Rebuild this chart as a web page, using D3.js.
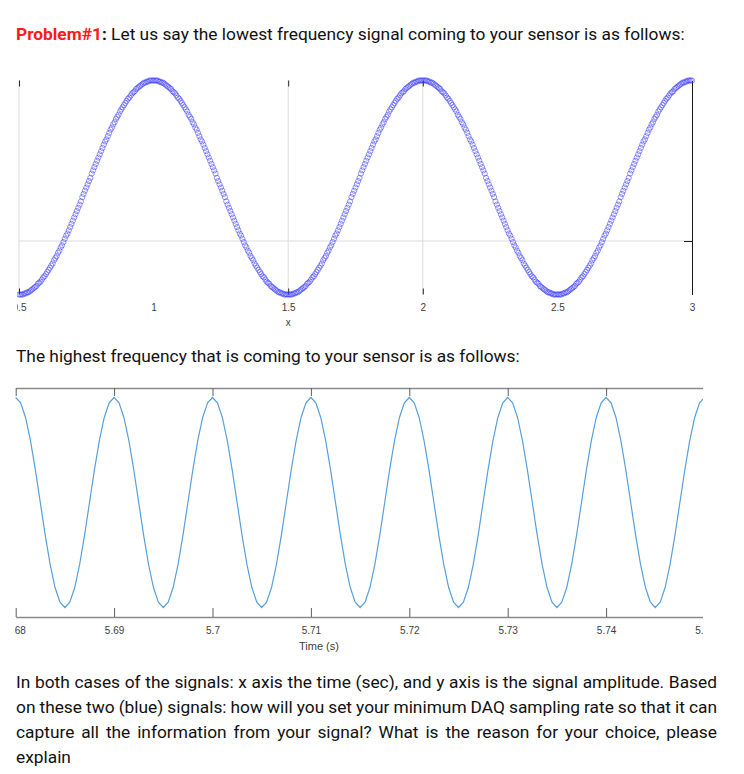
<!DOCTYPE html>
<html>
<head>
<meta charset="utf-8">
<script src="https://cdn.jsdelivr.net/npm/d3@7"></script>
<style>
  html, body { margin: 0; background: #fff; }
  svg { display: block; }
</style>
</head>
<body>
<svg id="page" width="744" height="774"></svg>
<script>
// ---- low frequency signal (markers), sampled every 0.005 from x = 0.5
const lowStart = 0.5, lowStep = 0.005;
const lowAmp = [
  -1,-1,-1,-1,-.99,-.99,-.98,-.98,-.97,-.96,-.95,-.94,-.93,-.92,-.9,-.89,-.88,-.86,-.84,-.83,-.81,-.79,-.77,-.75,-.73,-.71,-.68,-.66,-.64,-.61,-.59,-.56,-.54,-.51,-.48,-.45,-.43,-.4,-.37,-.34,-.31,-.28,-.25,-.22,-.19,-.16,-.13,-.09,-.06,-.03,0,
  .03,.06,.09,.13,.16,.19,.22,.25,.28,.31,.34,.37,.4,.43,.45,.48,.51,.54,.56,.59,.61,.64,.66,.68,.71,.73,.75,.77,.79,.81,.83,.84,.86,.88,.89,.9,.92,.93,.94,.95,.96,.97,.98,.98,.99,.99,1,1,1,1,
  1,1,1,.99,.99,.98,.98,.97,.96,.95,.94,.93,.92,.9,.89,.88,.86,.84,.83,.81,.79,.77,.75,.73,.71,.68,.66,.64,.61,.59,.56,.54,.51,.48,.45,.43,.4,.37,.34,.31,.28,.25,.22,.19,.16,.13,.09,.06,.03,0,
  -.03,-.06,-.09,-.13,-.16,-.19,-.22,-.25,-.28,-.31,-.34,-.37,-.4,-.43,-.45,-.48,-.51,-.54,-.56,-.59,-.61,-.64,-.66,-.68,-.71,-.73,-.75,-.77,-.79,-.81,-.83,-.84,-.86,-.88,-.89,-.9,-.92,-.93,-.94,-.95,-.96,-.97,-.98,-.98,-.99,-.99,-1,-1,-1,-1,
  -1,-1,-1,-.99,-.99,-.98,-.98,-.97,-.96,-.95,-.94,-.93,-.92,-.9,-.89,-.88,-.86,-.84,-.83,-.81,-.79,-.77,-.75,-.73,-.71,-.68,-.66,-.64,-.61,-.59,-.56,-.54,-.51,-.48,-.45,-.43,-.4,-.37,-.34,-.31,-.28,-.25,-.22,-.19,-.16,-.13,-.09,-.06,-.03,0,
  .03,.06,.09,.13,.16,.19,.22,.25,.28,.31,.34,.37,.4,.43,.45,.48,.51,.54,.56,.59,.61,.64,.66,.68,.71,.73,.75,.77,.79,.81,.83,.84,.86,.88,.89,.9,.92,.93,.94,.95,.96,.97,.98,.98,.99,.99,1,1,1,1,
  1,1,1,.99,.99,.98,.98,.97,.96,.95,.94,.93,.92,.9,.89,.88,.86,.84,.83,.81,.79,.77,.75,.73,.71,.68,.66,.64,.61,.59,.56,.54,.51,.48,.45,.43,.4,.37,.34,.31,.28,.25,.22,.19,.16,.13,.09,.06,.03,0,
  -.03,-.06,-.09,-.13,-.16,-.19,-.22,-.25,-.28,-.31,-.34,-.37,-.4,-.43,-.45,-.48,-.51,-.54,-.56,-.59,-.61,-.64,-.66,-.68,-.71,-.73,-.75,-.77,-.79,-.81,-.83,-.84,-.86,-.88,-.89,-.9,-.92,-.93,-.94,-.95,-.96,-.97,-.98,-.98,-.99,-.99,-1,-1,-1,-1,
  -1,-1,-1,-.99,-.99,-.98,-.98,-.97,-.96,-.95,-.94,-.93,-.92,-.9,-.89,-.88,-.86,-.84,-.83,-.81,-.79,-.77,-.75,-.73,-.71,-.68,-.66,-.64,-.61,-.59,-.56,-.54,-.51,-.48,-.45,-.43,-.4,-.37,-.34,-.31,-.28,-.25,-.22,-.19,-.16,-.13,-.09,-.06,-.03,0,
  .03,.06,.09,.13,.16,.19,.22,.25,.28,.31,.34,.37,.4,.43,.45,.48,.51,.54,.56,.59,.61,.64,.66,.68,.71,.73,.75,.77,.79,.81,.83,.84,.86,.88,.89,.9,.92,.93,.94,.95,.96,.97,.98,.98,.99,.99,1,1,1,1
];
const lowTicks = [0.5, 1, 1.5, 2, 2.5, 3];
const lowTickLabels = ["0.5", "1", "1.5", "2", "2.5", "3"];
const lowMarks = [0.5, 1.5, 2];      // tick marks / grid lines that show in the crop
const lowHGrid = -0.5;

// ---- high frequency signal (line), sampled every 0.0005 s from t = 5.68
const highStart = 5.68, highStep = 0.0005;
const highAmp = [
  1,.95,.81,.59,.31,0,-.31,-.59,-.81,-.95,-1,-.95,-.81,-.59,-.31,0,.31,.59,.81,.95,
  1,.95,.81,.59,.31,0,-.31,-.59,-.81,-.95,-1,-.95,-.81,-.59,-.31,0,.31,.59,.81,.95,
  1,.95,.81,.59,.31,0,-.31,-.59,-.81,-.95,-1,-.95,-.81,-.59,-.31,0,.31,.59,.81,.95,
  1,.95,.81,.59,.31,0,-.31,-.59,-.81,-.95,-1,-.95,-.81,-.59,-.31,0,.31,.59,.81,.95,
  1,.95,.81,.59,.31,0,-.31,-.59,-.81,-.95,-1,-.95,-.81,-.59,-.31,0,.31,.59,.81,.95,
  1,.95,.81,.59,.31,0,-.31,-.59,-.81,-.95,-1,-.95,-.81,-.59,-.31,0,.31,.59,.81,.95,
  1,.95,.81,.59,.31,0,-.31,-.59,-.81,-.95,-1,-.95,-.81,-.59,-.31,0,.31,.59,.81,.95,
  1
];
const highTicks = [5.68, 5.69, 5.7, 5.71, 5.72, 5.73, 5.74, 5.75];
const highTickLabels = ["5.68", "5.69", "5.7", "5.71", "5.72", "5.73", "5.74", "5.75"];

// ---- document text
const paraLines = [
  "In both cases of the signals: x axis the time (sec), and y axis is the signal amplitude. Based",
  "on these two (blue) signals: how will you set your minimum DAQ sampling rate so that it can",
  "capture all the information from your signal? What is the reason for your choice, please",
  "explain"
];

const svg = d3.select("#page");
const defs = svg.append("defs");
defs.append("clipPath").attr("id", "clipLow").append("rect")
  .attr("x", 17).attr("y", 60).attr("width", 720).attr("height", 280);
defs.append("clipPath").attr("id", "clipHigh").append("rect")
  .attr("x", 14.5).attr("y", 370).attr("width", 688.5).attr("height", 290);

const AX_FONT = "'Liberation Sans', Arial, sans-serif";

// ================= top chart =================
const xLow = d3.scaleLinear().domain([0.5, 3]).range([19, 692]);
const yLow = d3.scaleLinear().domain([-1, 1]).range([294.5, 80.5]);
const gLow = svg.append("g").attr("clip-path", "url(#clipLow)");

gLow.selectAll(".vgrid").data(lowMarks).join("line")
  .attr("class", "vgrid")
  .attr("x1", (d) => xLow(d)).attr("x2", (d) => xLow(d))
  .attr("y1", yLow(1)).attr("y2", yLow(-1))
  .attr("stroke", "#dcdcdc").attr("stroke-width", 1);
gLow.append("line")
  .attr("x1", xLow(0.5)).attr("x2", xLow(3))
  .attr("y1", yLow(lowHGrid)).attr("y2", yLow(lowHGrid))
  .attr("stroke", "#dcdcdc").attr("stroke-width", 1);

gLow.append("g").attr("transform", `translate(0,${yLow(1)})`)
  .call(d3.axisTop(xLow).tickValues(lowMarks).tickSizeInner(-6).tickSizeOuter(0).tickFormat(""))
  .call((g) => g.select(".domain").remove())
  .attr("color", "#262626");
gLow.append("g").attr("transform", `translate(0,${yLow(-1)})`)
  .call(d3.axisBottom(xLow).tickValues(lowMarks).tickSizeInner(-6).tickSizeOuter(0).tickFormat(""))
  .call((g) => g.select(".domain").remove())
  .attr("color", "#262626");

gLow.append("g").attr("transform", `translate(0,${yLow(-1)})`)
  .call(d3.axisBottom(xLow).tickValues(lowTicks).tickSize(0).tickPadding(9)
    .tickFormat((d, i) => lowTickLabels[i]))
  .call((g) => g.select(".domain").remove())
  .attr("font-family", AX_FONT).attr("font-size", 10).attr("color", "#404040");

gLow.append("text").attr("x", xLow(1.5)).attr("y", 326).attr("text-anchor", "middle")
  .attr("font-family", AX_FONT).attr("font-size", 10).attr("fill", "#404040").text("x");

gLow.append("g").attr("transform", `translate(${xLow(3)},0)`)
  .call(d3.axisRight(yLow).tickValues([lowHGrid]).tickSizeInner(-8).tickSizeOuter(0).tickFormat(""))
  .attr("color", "#1a1a1a");

gLow.selectAll(".pt").data(lowAmp).join("circle")
  .attr("class", "pt")
  .attr("cx", (d, i) => xLow(lowStart + i * lowStep))
  .attr("cy", (d) => yLow(d))
  .attr("r", 2.6)
  .attr("fill", "none").attr("stroke", "#2a2aff").attr("stroke-width", 0.5);

// ================= bottom chart =================
const xHigh = d3.scaleLinear().domain([5.68, 5.75]).range([15.7, 704.5]);
const yHigh = d3.scaleLinear().domain([-1, 1]).range([607.5, 397.5]);
const gHigh = svg.append("g").attr("clip-path", "url(#clipHigh)");

const frame = (g) => {
  g.select(".domain").attr("stroke", "#8a8a8a").attr("stroke-width", 1.3);
  g.selectAll(".tick line").attr("stroke", "#5e5e5e");
};
gHigh.append("g").attr("transform", "translate(0,388)")
  .call(d3.axisTop(xHigh).tickValues(highTicks).tickSizeInner(-8).tickSizeOuter(0).tickFormat(""))
  .call(frame);
gHigh.append("g").attr("transform", "translate(0,617)")
  .call(d3.axisBottom(xHigh).tickValues(highTicks).tickSizeInner(-9).tickSizeOuter(0).tickPadding(10)
    .tickFormat((d, i) => highTickLabels[i]))
  .call(frame)
  .attr("font-family", AX_FONT).attr("font-size", 10).attr("color", "#404040");

gHigh.append("path").datum(highAmp)
  .attr("d", d3.line().x((d, i) => xHigh(highStart + i * highStep)).y((d) => yHigh(d)))
  .attr("fill", "none").attr("stroke", "#58a0da").attr("stroke-width", 1.2);

gHigh.append("text").attr("x", 319).attr("y", 650).attr("text-anchor", "middle")
  .attr("font-family", AX_FONT).attr("font-size", 11).attr("fill", "#404040").text("Time (s)");

// ================= document text =================
const docG = svg.append("g")
  .attr("font-family", "Roboto, 'Liberation Sans', sans-serif")
  .attr("font-size", 16).attr("fill", "#111");

const title = docG.append("text").attr("x", 0).attr("y", 40);
title.append("tspan").attr("fill", "#ff1a1a").attr("font-weight", 700).text("Problem#1");
title.append("tspan").attr("font-weight", 700).text(":");
title.append("tspan").text(" Let us say the lowest frequency signal coming to your sensor is as follows:");

// squeeze the glyphs to the width of the original (narrower) document font
const k = (685 - 16) / title.node().getComputedTextLength();
docG.attr("transform", `translate(16,0) scale(${k},1)`);

docG.append("text").attr("x", 0).attr("y", 362)
  .text("The highest frequency that is coming to your sensor is as follows:");

const paraY = [688, 713, 738, 763];
paraLines.forEach((line, i) => {
  const t = docG.append("text").attr("x", 0).attr("y", paraY[i]).text(line);
  if (i < paraLines.length - 1) {
    const w = t.node().getComputedTextLength();
    const gaps = line.split(" ").length - 1;
    t.attr("word-spacing", ((717 - 16) / k - w) / gaps);
  }
});
</script>
</body>
</html>
